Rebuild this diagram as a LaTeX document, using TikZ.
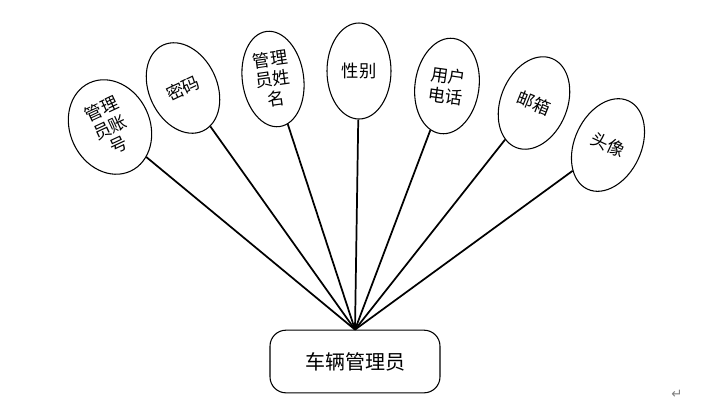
\documentclass[tikz,border=0pt]{standalone}
\usepackage{fontspec}
\setmainfont{Noto Sans CJK SC}
\newfontfamily\djv{DejaVu Sans}
\usetikzlibrary{shapes.geometric}
\begin{document}
\begin{tikzpicture}[x=0.75pt,y=-0.75pt,
  attr/.style={draw,ellipse,line width=0.8pt,inner sep=0pt,font=\fontsize{13}{15}\selectfont,align=center},
  conn/.style={line width=1.3pt}]
\useasboundingbox (0,0) rectangle (722,401);
\node[draw,rounded corners=12pt,line width=0.8pt,minimum width=127.5pt,minimum height=47pt,font=\fontsize{15}{18}\selectfont] (box) at (355,361.5) {车辆管理员};
\node[attr,minimum width=60pt,minimum height=73pt,rotate=25] (e1) at (110,127) {管理\\员账\\号};
\node[attr,minimum width=51pt,minimum height=71pt,rotate=25] (e2) at (183,88) {密码};
\node[attr,minimum width=46pt,minimum height=72pt,rotate=8] (e3) at (273,79) {管理\\员姓\\名};
\node[attr,minimum width=48pt,minimum height=72pt] (e4) at (359,71) {性别};
\node[attr,minimum width=48pt,minimum height=72pt,rotate=-8] (e5) at (447,86) {用户\\电话};
\node[attr,minimum width=50pt,minimum height=72pt,rotate=-22] (e6) at (534,103) {邮箱};
\node[attr,minimum width=50pt,minimum height=73pt,rotate=-25] (e7) at (608,145) {头像};
\foreach \e in {e1,e2,e3,e4,e5,e6,e7} \draw[conn] (\e) -- (box.north);
\node[text=gray,font=\djv\fontsize{10}{12}\selectfont] (ret) at (677,394) {↵};
\end{tikzpicture}
\end{document}
